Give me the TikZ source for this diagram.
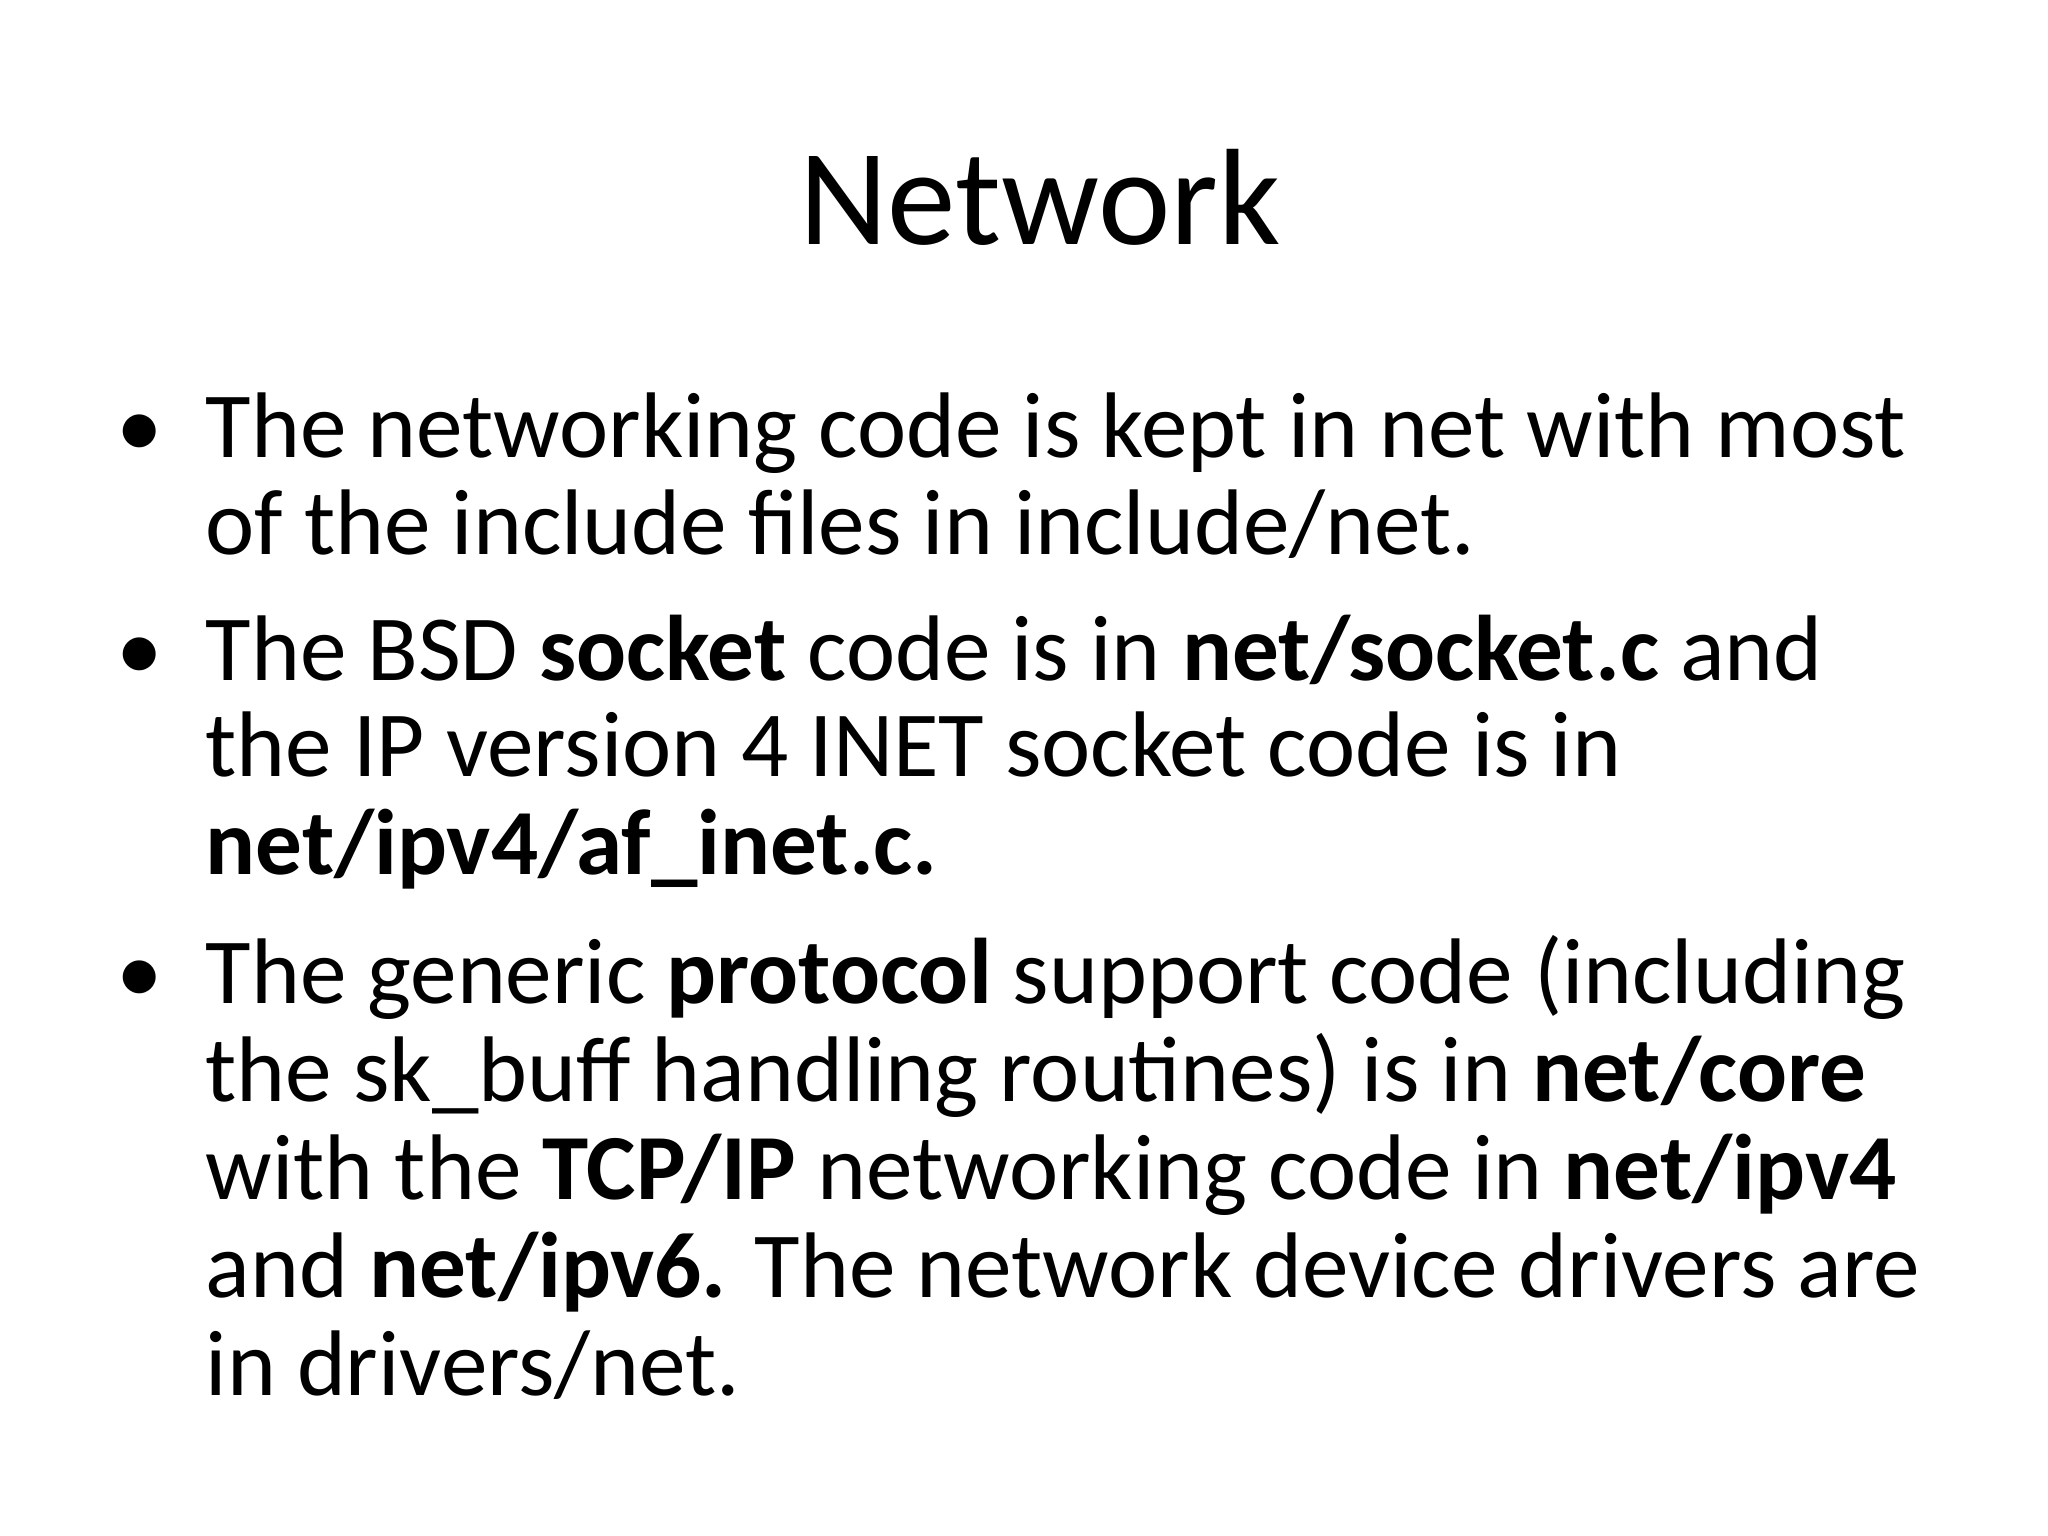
\documentclass[tikz,border=0pt]{standalone}
\usepackage{fontspec}
\setmainfont{Carlito}
\begin{document}
\begin{tikzpicture}[x=0.01cm,y=-0.01cm,
  ln/.style={anchor=base west,inner sep=0pt,font=\fontsize{26.5}{28}\selectfont},
  bul/.style={anchor=base,inner sep=0pt,font=\fontsize{26.5}{28}\selectfont}]
\useasboundingbox (0,0) rectangle (2048,1536);
\node[anchor=base,inner sep=0pt,font=\fontsize{39}{42}\selectfont] (title) at (1040,244) {Network};
\node[bul] (b1) at (140,457) {•};
\node[ln] (l1) at (205,457) {The networking code is kept in net with most};
\node[ln] (l2) at (205,554) {of the include files in include/net.};
\node[bul] (b2) at (140,680) {•};
\node[ln] (l3) at (205,680) {The BSD \textbf{socket} code is in \textbf{net/socket.c} and};
\node[ln] (l4) at (205,776) {the IP version 4 INET socket code is in};
\node[ln] (l5) at (205,874) {\textbf{net/ipv4/af\_inet.c.}};
\node[bul] (b3) at (140,1003) {•};
\node[ln] (l6) at (205,1003) {The generic \textbf{protocol} support code (including};
\node[ln] (l7) at (205,1101) {the sk\_buff handling routines) is in \textbf{net/core}};
\node[ln] (l8) at (205,1199) {with the \textbf{TCP/IP} networking code in \textbf{net/ipv4}};
\node[ln] (l9) at (205,1297) {and \textbf{net/ipv6.} The network device drivers are};
\node[ln] (l10) at (205,1395) {in drivers/net.};
\end{tikzpicture}
\end{document}
